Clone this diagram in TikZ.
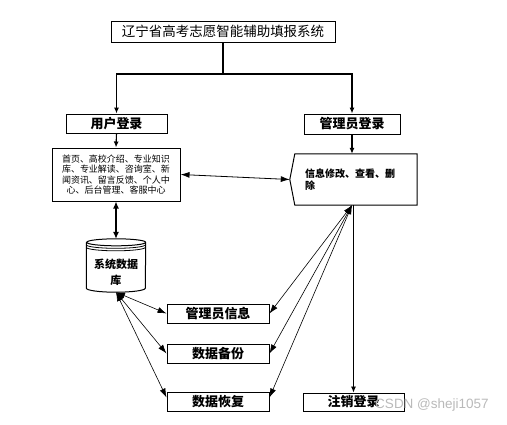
\documentclass[tikz,border=0pt]{standalone}
\usepackage{fontspec}
\setmainfont{Noto Sans CJK SC}
\newfontfamily\wmfont{Liberation Sans}
\usepackage{tikz}
\usetikzlibrary{arrows.meta}

\begin{document}
\begin{tikzpicture}[x=1pt,y=-1pt,
  box/.style={draw,line width=1pt,minimum height=19pt,inner sep=0pt,font=\fontsize{13}{15}\selectfont\bfseries},
  tree/.style={line width=1.1pt,-{Latex[length=6pt,width=5pt]}},
  link/.style={line width=0.6pt,{Latex[length=9pt,width=6pt]}-{Latex[length=9pt,width=6pt]}}]
\useasboundingbox (0,0) rectangle (507,424);
%%%%%top of the tree
\node[box,font=\fontsize{13.5}{15}\selectfont,minimum width=224pt,minimum height=21pt] (title) at (223,31.5) {辽宁省高考志愿智能辅助填报系统};
\node[box,minimum width=101pt] (user) at (116.5,123.5) {用户登录};
\node[box,minimum width=96pt,minimum height=20pt] (admin) at (352,124) {管理员登录};
\node[draw,line width=1pt,minimum width=128pt,minimum height=53pt,text width=118pt,align=center,inner sep=0pt,font=\fontsize{9}{10.5}\selectfont] (menu) at (116,174.5) {首页、高校介绍、专业知识\\库、专业解读、咨询室、新\\闻资讯、留言反馈、个人中\\心、后台管理、客服中心};
\node[minimum height=51pt,text width=102pt,inner xsep=10pt,inner ysep=0pt,align=left,font=\fontsize{10}{12}\selectfont\bfseries] (edit) at (356,179.5) {信息修改、查看、删\\除};
\draw[line width=1pt] (edit.north west) -- (edit.north east) -- (edit.south east) -- (edit.south west) -- ([xshift=-5pt]edit.west) -- cycle;
%%%%%database
\node[minimum width=59pt,minimum height=53pt,inner sep=0pt] (db) at (116,265.5) {};
\draw[line width=1pt] ([yshift=-3.5pt]db.north west) -- ([yshift=4pt]db.south west)
  arc[start angle=180,end angle=360,x radius=29.5pt,y radius=4pt] -- ([yshift=-3.5pt]db.north east)
  arc[start angle=0,end angle=180,x radius=29.5pt,y radius=3.5pt]
  arc[start angle=180,end angle=360,x radius=29.5pt,y radius=3.5pt];
\draw[line width=0.8pt] ([yshift=-6pt]db.north west) arc[start angle=180,end angle=360,x radius=29.5pt,y radius=3.5pt];
\draw[line width=0.8pt] ([yshift=-8.5pt]db.north west) arc[start angle=180,end angle=360,x radius=29.5pt,y radius=3.5pt];
\node[align=center,inner sep=0pt,font=\fontsize{11}{16}\selectfont\bfseries] (dblabel) at ([yshift=-7pt]db.center) {系统数据\\库};
%%%%%lower boxes
\node[box,minimum width=102pt] (info) at (218,313.5) {管理员信息};
\node[box,minimum width=102pt] (backup) at (218,353.5) {数据备份};
\node[box,minimum width=102pt] (restore) at (218,401.5) {数据恢复};
\node[box,minimum width=101pt,minimum height=18pt] (logout) at (353.5,402) {注销登录};
%%%%%connectors
\coordinate (split) at (223,74);
\coordinate (tip) at ([xshift=-5pt]edit.west);
\coordinate (hub) at ([xshift=-4pt]edit.south);
\draw[line width=1.1pt] (title.south) -- (split);
\draw[tree] (split) -| (user.north);
\draw[tree] (split) -| (admin.north);
\draw[tree] (user.south) -- (menu.north);
\draw[tree] (admin.south) -- (admin.south |- edit.north);
\draw[line width=1.1pt,{Latex[length=7pt,width=6pt]}-{Latex[length=7pt,width=6pt]}] (menu.south) -- (db.north);
\draw[link,line width=0.8pt] (menu.east) -- (tip);
\draw[link] (hub) -- (info.east);
\draw[link] (hub) -- (backup.east);
\draw[link] (hub) -- ([yshift=4pt]restore.east);
\draw[tree,line width=0.8pt] (hub -| logout.north) -- (logout.north);
\draw[link] (db.south) -- (info.west);
\draw[link] (db.south) -- (backup.west);
\draw[link] (db.south) -- ([yshift=4pt]restore.west);
\node[font=\wmfont\fontsize{13.5}{15}\selectfont,text=gray!55] (mark) at (432,405) {CSDN @sheji1057};
\end{tikzpicture}
\end{document}
